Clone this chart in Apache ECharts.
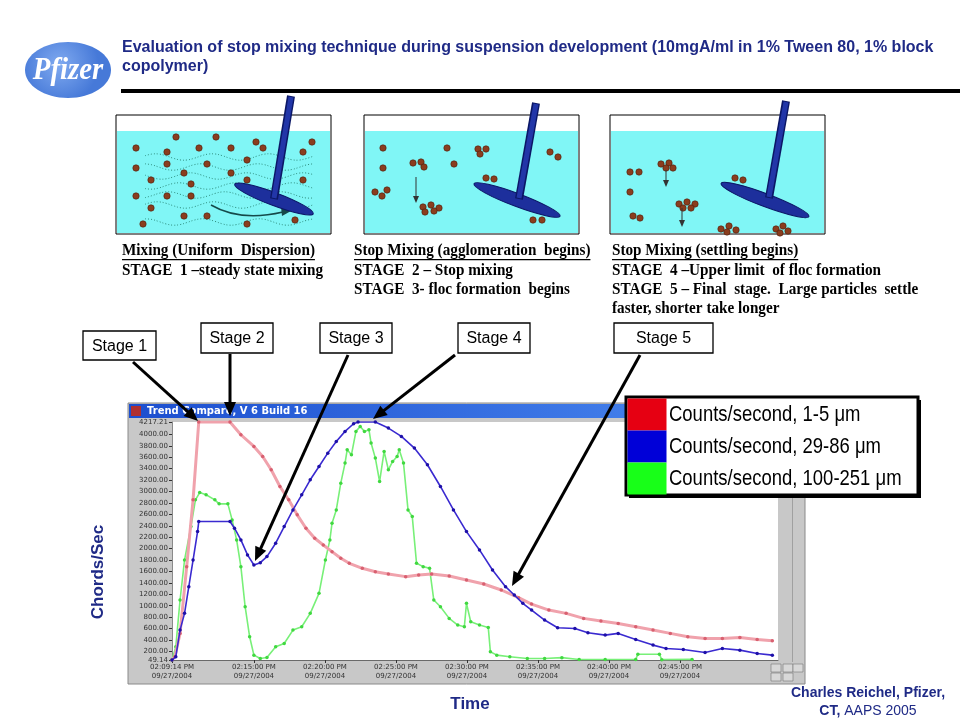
<!DOCTYPE html>
<html><head><meta charset="utf-8">
<script src="https://cdn.jsdelivr.net/npm/echarts@6/dist/echarts.min.js"></script>
<style>html,body{margin:0;padding:0;background:#fff}#c{width:960px;height:720px}</style>
</head><body><div id="c"></div>
<script>
// ---------- data ----------
const startTime = '14:09:14';
const endTime = '14:51:54';
const dateLabel = '09/27/2004';
const xTickTimes = ['14:09:14','14:15:00','14:20:00','14:25:00','14:30:00','14:35:00','14:40:00','14:45:00'];
const yTickValues = [49.14,200,400,600,800,1000,1200,1400,1600,1800,2000,2200,2400,2600,2800,3000,3200,3400,3600,3800,4000,4217.21];
const yMin = 49.14, yMax = 4217.21;

const seriesNames = ['Counts/second, 1-5 \u03bcm','Counts/second, 29-86 \u03bcm','Counts/second, 100-251 \u03bcm'];

const redTimes = ['14:09:14','14:09:26','14:09:48','14:10:16','14:10:43','14:11:07','14:13:19','14:14:05','14:15:00','14:15:37','14:16:13','14:16:50','14:17:27','14:18:03','14:18:40','14:19:17','14:19:53','14:20:30','14:21:07','14:21:43','14:22:38','14:23:33','14:24:28','14:25:41','14:26:36','14:27:31','14:28:45','14:29:58','14:31:11','14:32:25','14:33:38','14:34:33','14:35:46','14:36:59','14:38:13','14:39:26','14:40:39','14:41:53','14:43:06','14:44:19','14:45:33','14:46:46','14:47:59','14:49:13','14:50:26','14:51:30'];
const redCounts = [49,105,515,1684,2854,4217,4217,3994,3790,3614,3380,3088,2854,2591,2357,2181,2064,1947,1830,1743,1655,1596,1556,1509,1538,1556,1520,1450,1380,1275,1140,1029,924,866,778,731,690,632,573,515,456,427,427,444,409,386];

const blueTimes = ['14:09:14','14:09:30','14:09:48','14:10:07','14:10:25','14:10:43','14:11:02','14:11:07','14:13:19','14:13:38','14:14:05','14:14:33','14:15:00','14:15:27','14:15:55','14:16:32','14:17:08','14:17:45','14:18:22','14:18:58','14:19:35','14:20:12','14:20:48','14:21:25','14:22:01','14:22:20','14:23:33','14:24:28','14:25:23','14:26:18','14:27:13','14:28:08','14:29:03','14:29:58','14:30:53','14:31:48','14:32:43','14:33:20','14:33:56','14:34:33','14:35:28','14:36:23','14:37:36','14:38:31','14:39:44','14:40:39','14:41:53','14:43:06','14:44:01','14:45:14','14:46:46','14:47:59','14:49:13','14:50:26','14:51:30'];
const blueCounts = [49,105,573,866,1333,1800,2298,2474,2474,2357,2152,1889,1713,1754,1860,2094,2386,2678,2941,3205,3438,3672,3877,4053,4187,4217,4217,4111,3965,3760,3468,3088,2678,2298,1977,1626,1333,1187,1041,924,749,614,602,526,485,515,409,310,251,234,181,251,222,164,134];

const greenTimes = ['14:09:14','14:09:30','14:09:48','14:10:07','14:10:34','14:10:53','14:11:11','14:11:38','14:12:15','14:12:33','14:13:10','14:13:28','14:13:47','14:14:05','14:14:23','14:14:42','14:15:00','14:15:27','14:15:55','14:16:32','14:17:08','14:17:45','14:18:22','14:18:58','14:19:35','14:20:02','14:20:21','14:20:30','14:20:48','14:21:07','14:21:25','14:21:34','14:21:52','14:22:11','14:22:29','14:22:47','14:23:06','14:23:15','14:23:33','14:23:51','14:24:10','14:24:28','14:24:46','14:25:05','14:25:14','14:25:32','14:25:51','14:26:09','14:26:27','14:26:55','14:27:22','14:27:40','14:28:08','14:28:45','14:29:21','14:29:49','14:29:58','14:30:16','14:30:53','14:31:30','14:31:39','14:32:06','14:33:01','14:34:15','14:35:28','14:36:41','14:37:54','14:39:44','14:41:53','14:42:02','14:43:33','14:43:43','14:45:51'];
const greenCounts = [49,280,1100,1800,2386,2854,2982,2942,2854,2784,2784,2503,2152,1684,982,456,134,76,94,281,339,573,632,866,1216,1800,2152,2444,2678,3146,3497,3731,3643,4053,4140,4053,4082,3848,3585,3175,3702,3380,3526,3614,3731,3497,2678,2561,1743,1684,1655,1099,982,778,661,632,1041,719,661,620,193,134,105,76,76,90,57,57,60,150,150,55,60];

const stageLabels = ['Stage 1','Stage 2','Stage 3','Stage 4','Stage 5'];
const legendColors = ['#e60012','#0000d8','#18ff18'];

// ---------- helpers ----------
function toSec(t){const p=t.split(':').map(Number);return p[0]*3600+p[1]*60+p[2];}
const t0 = toSec(startTime);
function pad(n){return (n<10?'0':'')+n;}
function fmtTime(sec){
  const tot=Math.round(t0+sec);const h=Math.floor(tot/3600),m=Math.floor(tot%3600/60),s=tot%60;
  const h12=h%12||12;return pad(h12)+':'+pad(m)+':'+pad(s)+' '+(h>=12?'PM':'AM')+'\n'+dateLabel;
}
function pairs(times,vals){return times.map((t,i)=>[toSec(t)-t0,vals[i]]);}
const xTicks = xTickTimes.map(t=>toSec(t)-t0);

const ctx = document.createElement('canvas').getContext('2d');
function textW(t,font){ctx.font=font;return ctx.measureText(t).width;}

const deco = [];
function arrow(x1,y1,x2,y2,lw,hl,hw,col,z){
  const dx=x2-x1,dy=y2-y1,L=Math.hypot(dx,dy),ux=dx/L,uy=dy/L;
  const bx=x2-ux*hl,by=y2-uy*hl;
  deco.push({type:'line',z:z,shape:{x1:x1,y1:y1,x2:bx+ux*2,y2:by+uy*2},style:{stroke:col,lineWidth:lw}});
  deco.push({type:'polygon',z:z,shape:{points:[[x2,y2],[bx-uy*hw,by+ux*hw],[bx+uy*hw,by-ux*hw]]},style:{fill:col}});
}
function txt(x,y,t,font,fill,align,va,z,extra,props){
  const e=Object.assign({type:'text',z:z||10,x:x,y:y,style:Object.assign({text:t,font:font,fill:fill,align:align||'left',verticalAlign:va||'middle'},extra||{})},props||{});
  deco.push(e);return e;
}
const NAVY='#1f2a86';

// ---------- logo + title ----------
deco.push({type:'ellipse',z:10,shape:{cx:68,cy:70,rx:43,ry:28},style:{fill:new echarts.graphic.RadialGradient(0.4,0.4,0.7,[{offset:0,color:'#80aaf0'},{offset:1,color:'#4679d8'}])}});
txt(68,71,'Pfizer','italic bold 32px "Liberation Serif"','#fff','center','middle',11,null,{scaleX:0.9});
txt(122,48,'Evaluation of stop mixing technique during suspension development (10mgA/ml in 1% Tween 80, 1% block','bold 16px "Liberation Sans"',NAVY);
txt(122,67,'copolymer)','bold 16px "Liberation Sans"',NAVY);
deco.push({type:'rect',z:10,shape:{x:121,y:89,width:839,height:4},style:{fill:'#000'}});

// ---------- tanks ----------
const tanks=[116,364,610];
tanks.forEach(x=>{
  deco.push({type:'rect',z:10,shape:{x:x,y:115,width:215,height:119},style:{fill:'#fff',stroke:'#000',lineWidth:1}});
  deco.push({type:'rect',z:10,shape:{x:x+1,y:131,width:213,height:102},style:{fill:'#80f6f6'}});
});
[157,167,176,186,195,205,222].forEach((yb,k)=>{
  const pts=[];for(let x=145;x<=314;x+=7){pts.push([x,yb+3.2*Math.sin((x+k*11)/9)]);}
  deco.push({type:'polyline',z:11,shape:{points:pts,smooth:0.4},style:{stroke:'#2f8f80',lineWidth:1,lineDash:[1,2],fill:null}});
});
deco.push({type:'bezierCurve',z:12,shape:{x1:211,y1:205,x2:283,y2:212,cpx1:240,cpy1:222},style:{stroke:'#154a4a',lineWidth:1.5,fill:null}});
deco.push({type:'polygon',z:12,shape:{points:[[291,211],[281,207],[282,216]]},style:{fill:'#154a4a'}});
const particles=[
 [136,148],[176,137],[216,137],[256,142],[312,142],[167,152],[199,148],[231,148],[263,148],[303,152],[136,168],[167,164],[207,164],[247,160],[184,173],[231,173],[151,180],[191,184],[247,180],[303,180],[136,196],[167,196],[191,196],[151,208],[184,216],[207,216],[247,224],[295,220],[143,224],
 [383,148],[447,148],[383,168],[454,164],[550,152],[558,157],[533,220],[542,220],[478,149],[486,149],[480,154],[413,163],[421,162],[424,167],[375,192],[387,190],[382,196],[423,207],[431,205],[439,208],[425,212],[434,211],[486,178],[494,179],
 [630,172],[639,172],[630,192],[633,216],[640,218],[661,164],[669,163],[666,168],[673,168],[679,204],[687,202],[695,204],[683,208],[691,208],[735,178],[743,180],[721,229],[729,226],[736,230],[727,232],[776,229],[783,226],[788,231],[780,233]
];
particles.forEach(p=>deco.push({type:'circle',z:12,shape:{cx:p[0],cy:p[1],r:3.2},style:{fill:'#8a3d1e',stroke:'#4e1e0c',lineWidth:0.6}}));
arrow(416,177,416,203,1,7,3,'#333',12);
arrow(666,170,666,187,1,7,3,'#333',12);
arrow(682,208,682,227,1,7,3,'#333',12);
[[291,96,274,199,274,199,42],[536,103,519,199,517,200,46],[786,101,769,198,765,200,47]].forEach(s=>{
  deco.push({type:'ellipse',z:13,x:s[4],y:s[5],rotation:-0.36,shape:{cx:0,cy:0,rx:s[6],ry:6.5},style:{fill:'#1d2f9c',stroke:'#0b1766',lineWidth:1}});
  deco.push({type:'line',z:14,shape:{x1:s[0],y1:s[1],x2:s[2],y2:s[3]},style:{stroke:'#0b1766',lineWidth:8}});
  deco.push({type:'line',z:14,shape:{x1:s[0],y1:s[1]+1,x2:s[2],y2:s[3]-1},style:{stroke:'#2236a8',lineWidth:5}});
});

// ---------- captions ----------
const CF='bold 16px "Liberation Serif"', CS=0.95;
function cap(x,y,t){txt(x,y,t,CF,'#000','left','middle',10,null,{scaleX:CS});}
function heading(x,y,t){cap(x,y,t);deco.push({type:'rect',z:10,shape:{x:x,y:y+8,width:textW(t,CF)*CS,height:1.2},style:{fill:'#000'}});}
heading(122,251,'Mixing (Uniform  Dispersion)');
cap(122,271,'STAGE  1 \u2013steady state mixing');
heading(354,251,'Stop Mixing (agglomeration  begins)');
cap(354,271,'STAGE  2 \u2013 Stop mixing');
cap(354,290,'STAGE  3- floc formation  begins');
heading(612,251,'Stop Mixing (settling begins)');
cap(612,271,'STAGE  4 \u2013Upper limit  of floc formation');
cap(612,290,'STAGE  5 \u2013 Final  stage.  Large particles  settle');
cap(612,309,'faster, shorter take longer');

// ---------- chart window frame ----------
deco.push({type:'rect',z:-5,shape:{x:128,y:403,width:677,height:281},style:{fill:'#c8c8c8',stroke:'#8a8a8a',lineWidth:1}});
deco.push({type:'rect',z:-4,shape:{x:129,y:404,width:675,height:14},style:{fill:new echarts.graphic.LinearGradient(0,0,1,0,[{offset:0,color:'#1d4fcf'},{offset:1,color:'#4d8cf2'}])}});
deco.push({type:'rect',z:-3,shape:{x:131,y:406,width:10,height:10},style:{fill:'#b03030'}});
txt(147,411,'Trend Compare, V 6 Build 16','bold 10px "DejaVu Sans"','#fff','left','middle',-3);
deco.push({type:'rect',z:-4,shape:{x:172,y:422,width:606,height:238},style:{fill:'#fff'}});
deco.push({type:'rect',z:-4,shape:{x:792,y:422,width:1,height:240},style:{fill:'#a0a0a0'}});
[[771,664],[783,664],[771,673],[783,673],[793,664]].forEach(p=>deco.push({type:'rect',z:-3,shape:{x:p[0],y:p[1],width:10,height:8},style:{fill:'#d8d8d8',stroke:'#777',lineWidth:0.6}}));

// ---------- legend box ----------
deco.push({type:'rect',z:30,shape:{x:629,y:400,width:292,height:98},style:{fill:'#000'}});
deco.push({type:'rect',z:31,shape:{x:626,y:397,width:292,height:98},style:{fill:'#fff',stroke:'#000',lineWidth:3}});
seriesNames.forEach((n,i)=>{
  deco.push({type:'rect',z:32,shape:{x:627.5,y:398.5+i*32,width:39,height:32},style:{fill:legendColors[i]}});
  txt(669,415+i*32,n,'22px "Liberation Sans"','#000','left','middle',33,null,{scaleX:0.84});
});

// ---------- axis titles / credit ----------
txt(98,572,'Chords/Sec','bold 17px "Liberation Sans"',NAVY,'center','middle',10,null,{rotation:Math.PI/2});
txt(470,704,'Time','bold 17px "Liberation Sans"',NAVY,'center','middle',10);
txt(868,693,'Charles Reichel, Pfizer,','bold 14px "Liberation Sans"',NAVY,'center','middle',10);
txt(868,711,'{b|CT,} {n|AAPS 2005}','14px "Liberation Sans"',NAVY,'center','middle',10,{rich:{b:{font:'bold 14px "Liberation Sans"',fill:NAVY},n:{font:'14px "Liberation Sans"',fill:NAVY}}});

// ---------- stage boxes + arrows ----------
const stageBoxes=[[83,331,73,29],[201,323,72,30],[320,323,72,30],[458,323,72,30],[614,323,99,30]];
stageBoxes.forEach((b,i)=>{
  deco.push({type:'rect',z:20,shape:{x:b[0],y:b[1],width:b[2],height:b[3]},style:{fill:'#fff',stroke:'#000',lineWidth:1.3}});
  txt(b[0]+b[2]/2,b[1]+b[3]/2+1,stageLabels[i],'16px "Liberation Sans"','#000','center','middle',21);
});
arrow(133,362,198,421,3,14,6,'#000',100);
arrow(230,354,230,416,3,14,6,'#000',100);
arrow(348,355,255,561,3,14,6,'#000',100);
arrow(455,355,373,419,3,14,6,'#000',100);
arrow(640,355,512,586,3,14,6,'#000',100);

// ---------- chart ----------
const chart = echarts.init(document.getElementById('c'),null,{renderer:'canvas'});
chart.setOption({
  animation:false,
  grid:{left:172,top:422,width:606,height:238,containLabel:false},
  xAxis:{type:'value',min:0,max:toSec(endTime)-t0,
    axisLine:{show:true,lineStyle:{color:'#6a6a6a'}},
    axisTick:{show:true,length:3,customValues:xTicks,lineStyle:{color:'#333'}},
    splitLine:{show:false},
    axisLabel:{customValues:xTicks,formatter:v=>fmtTime(v),fontSize:7,fontFamily:'"DejaVu Sans"',color:'#333',lineHeight:9,margin:3}
  },
  yAxis:{type:'value',min:yMin,max:yMax,
    axisLine:{show:true,lineStyle:{color:'#8a8a8a'}},
    axisTick:{show:true,length:3,customValues:yTickValues,lineStyle:{color:'#333'}},
    splitLine:{show:false},
    axisLabel:{customValues:yTickValues,formatter:v=>v.toFixed(2),fontSize:7,fontFamily:'"DejaVu Sans"',color:'#333',margin:4}
  },
  series:[
    {name:seriesNames[0],type:'line',data:pairs(redTimes,redCounts),symbol:'circle',symbolSize:3.5,
     lineStyle:{color:'#f0a2ac',width:3},itemStyle:{color:'#d86070'},z:3},
    {name:seriesNames[1],type:'line',data:pairs(blueTimes,blueCounts),symbol:'circle',symbolSize:3.5,
     lineStyle:{color:'#3a2ad0',width:1.6},itemStyle:{color:'#1e10a8'},z:4},
    {name:seriesNames[2],type:'line',data:pairs(greenTimes,greenCounts),symbol:'circle',symbolSize:3.5,
     lineStyle:{color:'#78f078',width:1.6},itemStyle:{color:'#40d840'},z:2}
  ],
  graphic:{elements:deco}
});
</script></body></html>
